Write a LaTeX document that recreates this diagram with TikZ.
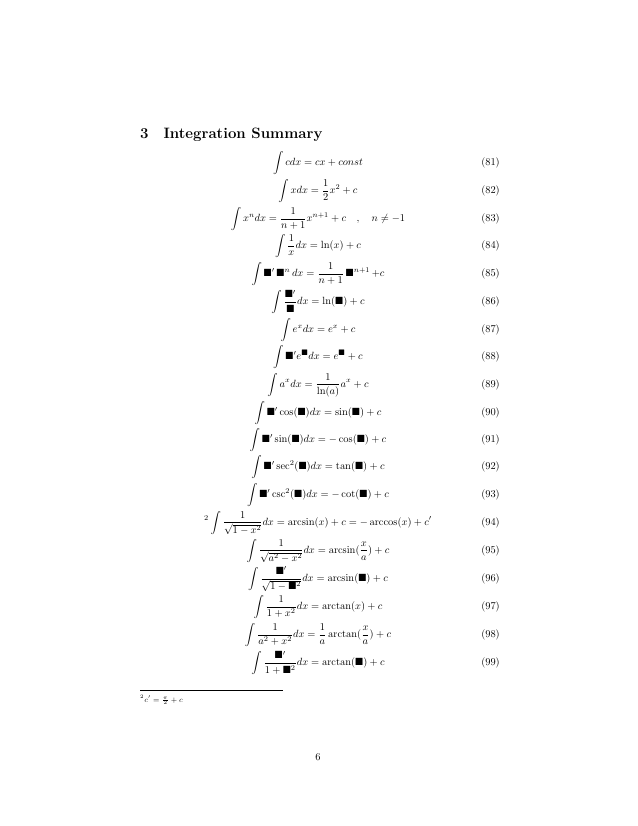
\documentclass[tikz,border=0pt]{standalone}
\usepackage{amsmath,amssymb}
\newcommand{\bs}{\blacksquare}
\begin{document}
\begin{tikzpicture}[x=0.9592pt,y=-0.9592pt,
  eq/.style={inner sep=0pt,execute at begin node=$\displaystyle,execute at end node=$},
  num/.style={inner sep=0pt,anchor=east}]
\useasboundingbox (0,0) rectangle (638,826);
\node[anchor=west,inner sep=0pt,font=\Large\bfseries] (title) at (140,135) {3\hspace{1em}Integration Summary};
\foreach \y/\n/\e in {
163/81/{\int c dx = cx + const},
191/82/{\int x dx = \frac{1}{2}x^2 + c},
219/83/{\int x^n dx = \frac{1}{n+1}x^{n+1} + c \quad , \quad n \neq -1},
246/84/{\int \frac{1}{x} dx = \ln(x) + c},
274/85/{\int \bs'\,\bs^n\,dx = \frac{1}{n+1}\,\bs^{n+1}\,{+}c},
302/86/{\int \frac{\bs'}{\bs} dx = \ln(\bs) + c},
330/87/{\int e^x dx = e^x + c},
357/88/{\int \bs' e^{\bs} dx = e^{\bs} + c},
385/89/{\int a^x dx = \frac{1}{\ln(a)}a^x + c},
413/90/{\int \bs'\cos(\bs)dx = \sin(\bs) + c},
440/91/{\int \bs'\sin(\bs)dx = -\cos(\bs) + c},
467/92/{\int \bs'\sec^2(\bs)dx = \tan(\bs) + c},
495/93/{\int \bs'\csc^2(\bs)dx = -\cot(\bs) + c},
523/94/{{}^2\int \frac{1}{\sqrt{1-x^2}} dx = \arcsin(x) + c = -\arccos(x) + c'},
551/95/{\int \frac{1}{\sqrt{a^2-x^2}} dx = \arcsin(\frac{x}{a}) + c},
579/96/{\int \frac{\bs'}{\sqrt{1-\bs^2}} dx = \arcsin(\bs) + c},
607/97/{\int \frac{1}{1+x^2} dx = \arctan(x) + c},
635/98/{\int \frac{1}{a^2+x^2} dx = \frac{1}{a}\arctan(\frac{x}{a}) + c},
663/99/{\int \frac{\bs'}{1+\bs^2} dx = \arctan(\bs) + c}}{
  \node[eq] (e\n) at (318,\y) {\e};
  \node[num] (n\n) at (500,\y) {(\n)};
}
\coordinate (fa) at (140,690);
\coordinate (fb) at (283,690);
\draw[line width=0.4pt] (fa) -- (fb);
\node[anchor=west,inner sep=0pt,font=\scriptsize] (fn) at (140,700) {$^2c' = \frac{\pi}{2} + c$};
\node[inner sep=0pt] (page) at (318,757) {6};
\end{tikzpicture}
\end{document}
